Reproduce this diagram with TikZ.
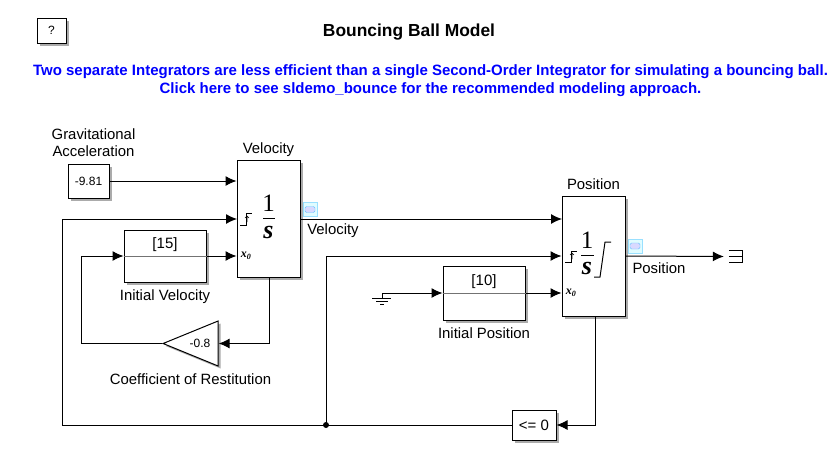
\documentclass[tikz,border=0pt]{standalone}
\usepackage{fontspec}
\setmainfont{Liberation Sans}
\newfontfamily\mathserif{Liberation Serif}
\usetikzlibrary{positioning,arrows.meta,shapes.geometric,shadows}
\tikzset{block/.style = {draw=black,line width=1pt,fill=white,rectangle,inner sep=0pt,drop shadow={shadow xshift=2.5pt,shadow yshift=-2.5pt,opacity=.55,fill=black!60}}}
\tikzset{lbl/.style = {font=\fontsize{14.9}{17}\selectfont,inner sep=0pt,align=center}}
\tikzset{wire/.style = {line width=1pt}}
\tikzset{arrow/.style = {wire,-{Latex[length=11pt,width=10pt]}}}
\tikzset{scopeicon/.style = {draw=blue!30!cyan!40,fill=blue!10!cyan!12,line width=1pt,minimum width=14pt,minimum height=14pt,inner sep=0pt}}
\tikzset{oneover/.style = {font=\mathserif\fontsize{25}{25}\selectfont,inner sep=0pt}}
\tikzset{overs/.style = {font=\mathserif\bfseries\itshape\fontsize{26}{26}\selectfont,inner sep=0pt}}
\tikzset{xzero/.style = {font=\mathserif\bfseries\itshape\fontsize{12}{12}\selectfont,inner sep=0pt}}

\begin{document}
\begin{tikzpicture}[x=1pt,y=-1pt]
		\useasboundingbox (0,0) rectangle (839,461);
		% header
		\node[block, minimum width=29pt, minimum height=25pt, font=\fontsize{12}{14}\selectfont] (help) at (51.5,30.5) {?};
		\node[font=\bfseries\fontsize{17.4}{19}\selectfont, inner sep=0pt] (title) at (409,32) {Bouncing Ball Model};
		\node[font=\bfseries\fontsize{15}{17.5}\selectfont, text=blue, align=center, inner sep=0pt] (link) at (430.5,80.5) {Two separate Integrators are less efficient than a single Second-Order Integrator for simulating a bouncing ball.\\[0pt]Click here to see sldemo\_bounce for the recommended modeling approach.};
		% blocks
		\node[block, minimum width=41pt, minimum height=34pt, font=\fontsize{12}{14}\selectfont] (grav) at (88.5,181) {-9.81};
		\node[block, minimum width=63pt, minimum height=117pt] (vel) at (268.5,218.5) {};
		\node[block, minimum width=63pt, minimum height=120pt] (pos) at (593.5,256) {};
		\node[block, minimum width=82pt, minimum height=52pt] (initv) at (165,256) {};
		\node[block, minimum width=82pt, minimum height=54pt] (initp) at (484,293) {};
		\node[block, isosceles triangle, isosceles triangle apex angle=44.5, shape border rotate=180, minimum height=55pt, minimum width=45pt] (gain) at (203,343.5) {};
		\node[block, minimum width=44pt, minimum height=30pt, font=\fontsize{15}{17}\selectfont] (cmp) at (534,425) {<= 0};
		\node[font=\fontsize{12}{14}\selectfont, inner sep=0pt] (gainval) at (200,343.5) {-0.8};
		\node[font=\fontsize{15}{17}\selectfont, inner sep=0pt] (initvval) at (165,245) {[15]};
		\node[font=\fontsize{15}{17}\selectfont, inner sep=0pt] (initpval) at (484,282) {[10]};
		\draw[draw=black!55, line width=1pt] (initv.west) -- (initv.east);
		\draw[draw=black!55, line width=1pt] (initp.west) -- (initp.east);
		% labels
		\node[lbl, above=7pt of grav, xshift=5pt] (gravlbl) {Gravitational\\Acceleration};
		\node[lbl, above=3pt of vel] (vellbl) {Velocity};
		\node[lbl, above=6pt of pos] (poslbl) {Position};
		\node[lbl, below=7pt of initv] (initvlbl) {Initial Velocity};
		\node[lbl, below=7pt of initp] (initplbl) {Initial Position};
		\node[lbl] (gainlbl) at (190.5,379) {Coefficient of Restitution};
		\node[lbl] (velsig) at (333,231) {Velocity};
		\node[lbl] (possig) at (659,268) {Position};
		% integrator faces
		\node[oneover] (velone) at (268.5,203) {1};
		\node[overs] (vels) at (268.5,232) {s};
		\draw[line width=1pt] (263,218.5) -- (275,218.5);
		\draw[line width=.8pt] (240,225) -- (246,225) -- (246,213) -- (252,213);
		\draw[line width=.6pt] (247,222) -- (247,216) (245,218) -- (247,216) -- (249,218);
		\node[xzero] (velxz) at (246,256) {x\textsubscript{0}};
		\node[oneover] (posone) at (587,240) {1};
		\node[overs] (poss) at (587,268) {s};
		\draw[line width=1pt] (581,255.5) -- (594,255.5);
		\draw[line width=.8pt] (565,262) -- (571,262) -- (571,251) -- (577,251);
		\draw[line width=.6pt] (572,259) -- (572,253) (570,255) -- (572,253) -- (574,255);
		\draw[line width=1pt] (594,277) -- (600,277) -- (605,242) -- (611,242);
		\node[xzero] (posxz) at (571,293) {x\textsubscript{0}};
		% scope icons
		\node[scopeicon] (velicon) at (310,209.5) {};
		\node[scopeicon] (posicon) at (635,246) {};
		\draw[draw=blue!40!cyan!60, fill=white!85!blue, rounded corners=1.5pt] ([xshift=-5pt,yshift=3pt]velicon.center) rectangle ([xshift=5pt,yshift=-3pt]velicon.center);
		\draw[draw=blue!40!cyan!60, fill=white!85!blue, rounded corners=1.5pt] ([xshift=-5pt,yshift=3pt]posicon.center) rectangle ([xshift=5pt,yshift=-3pt]posicon.center);
		% ground and terminator
		\coordinate (gnd) at (382,293);
		\draw[line width=.8pt] (372,298) -- (391,298) (376,301) -- (388,301) (380,304) -- (384,304);
		\draw[wire] (gnd) -- ++(0,5);
		\node[minimum width=13pt, minimum height=12pt, inner sep=0pt] (term) at (735.5,256.5) {};
		\draw[line width=.8pt] (term.north west) -- (term.north east) -- (term.south east) -- (term.south west) (term.west) -- (term.east);
		% wires
		\coordinate (velin) at (237,219);
		\coordinate (posin) at (562,219);
		\coordinate (fbturn) at (62,425);
		\coordinate (jn) at (326,425);
		\draw[arrow] (grav.east) -- (grav.east -| vel.west);
		\draw[arrow] (velin -| vel.east) -- (posin);
		\draw[arrow] (cmp.west) -- (fbturn) -- (fbturn |- velin) -- (velin);
		\draw[arrow] (jn) -- (jn |- pos.west) -- (pos.west);
		\fill (jn) circle (3pt);
		\draw[arrow] (initv.east) -- (initv.east -| vel.west);
		\draw[arrow] (gain.apex) -- (81,343.5) -- (81,256) -- (initv.west);
		\draw[arrow] (269,277) -- (269,343.5) -- (gain.east |- 0,343.5);
		\draw[arrow] (gnd) -- (initp.west);
		\draw[arrow] (initp.east) -- (initp.east -| pos.west);
		\draw[arrow, shorten >=5pt] (pos.east) -- (term.west);
		\draw[arrow] (595,316) -- (595,425) -- (cmp.east);
	\end{tikzpicture}
\end{document}
